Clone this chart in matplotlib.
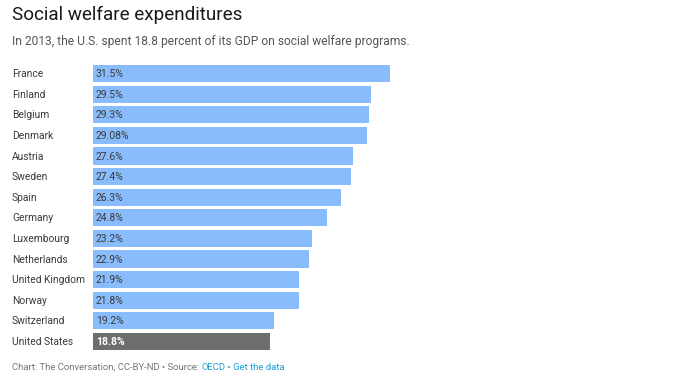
import matplotlib
matplotlib.use("Agg")
import matplotlib.pyplot as plt

countries = ["France", "Finland", "Belgium", "Denmark", "Austria", "Sweden", "Spain",
             "Germany", "Luxembourg", "Netherlands", "United Kingdom", "Norway",
             "Switzerland", "United States"]
values = [31.5, 29.5, 29.3, 29.08, 27.6, 27.4, 26.3, 24.8, 23.2, 22.9, 21.9, 21.8, 19.2, 18.8]
labels = ["31.5%", "29.5%", "29.3%", "29.08%", "27.6%", "27.4%", "26.3%", "24.8%",
          "23.2%", "22.9%", "21.9%", "21.8%", "19.2%", "18.8%"]

plt.rcParams['font.family'] = ['Roboto', 'DejaVu Sans']
W, H = 700, 376
fig = plt.figure(figsize=(W/100, H/100), dpi=100)
fig.patch.set_facecolor("white")

ax_left, ax_right = 93, 390
ax_top, ax_bot = 63.2, 351.8
ax = fig.add_axes([ax_left/W, 1-ax_bot/H, (ax_right-ax_left)/W, (ax_bot-ax_top)/H])
ys = list(range(len(countries)))
colors = ["#89bcfd"]*(len(countries)-1) + ["#6e6e6e"]
ax.barh(ys, values, height=0.83, color=colors, edgecolor="none")
ax.set_xlim(0, 31.5)
ax.set_ylim(len(countries)-0.5, -0.5)
ax.axis("off")

for i, (c, v, l) in enumerate(zip(countries, values, labels)):
    last = i == len(countries)-1
    ax.text(0.3, i + 0.03, l, va="center", ha="left", fontsize=7.5,
            color="white" if last else "#3a3a3a", fontweight="bold" if last else "normal")
    fig.text(12/W, 1-(74.2+i*20.6)/H, c, va="center", ha="left", fontsize=7.35, color="#3a3a3a")

fig.text(12/W, 1-14.5/H, "Social welfare expenditures", va="center", ha="left",
         fontsize=13.6, color="#1a1a1a")
fig.text(12/W, 1-41/H, "In 2013, the U.S. spent 18.8 percent of its GDP on social welfare programs.",
         va="center", ha="left", fontsize=8.65, color="#555555")

# footer
fy = 1-367.5/H
fs = 6.82
t1 = fig.text(12/W, fy, "Chart: The Conversation, CC-BY-ND \u2022 Source: ", va="center", ha="left",
              fontsize=fs, color="#777777")
fig.canvas.draw()
r = fig.canvas.get_renderer()
bb = t1.get_window_extent(r)
t2 = fig.text(bb.x1/W, fy, "OECD", va="center", ha="left", fontsize=fs, color="#1a9ed9")
bb2 = t2.get_window_extent(r)
t3 = fig.text(bb2.x1/W, fy, " \u2022 ", va="center", ha="left", fontsize=fs, color="#777777")
bb3 = t3.get_window_extent(r)
fig.text(bb3.x1/W, fy, "Get the data", va="center", ha="left", fontsize=fs, color="#1a9ed9")

fig.savefig("out.png", dpi=100, facecolor="white")
